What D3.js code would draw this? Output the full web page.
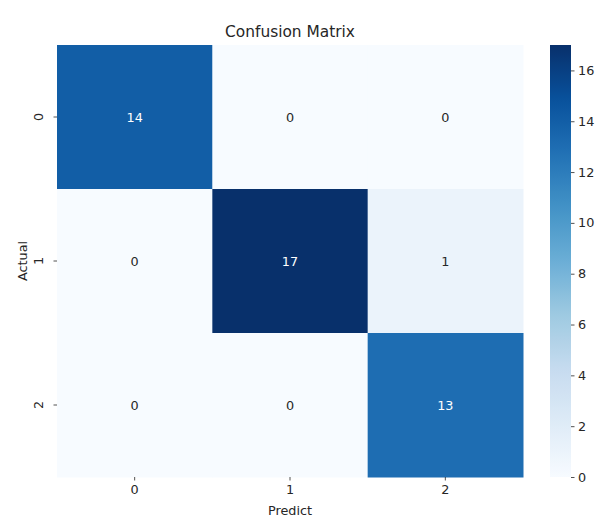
<!DOCTYPE html>
<html>
<head>
<meta charset="utf-8">
<script src="https://cdn.jsdelivr.net/npm/d3@7"></script>
<style>
  body { margin: 0; background: #fff; }
  text { font-family: "DejaVu Sans", sans-serif; fill: #262626; }
</style>
</head>
<body>
<svg id="chart" width="610" height="522"></svg>
<script>
const predictLabels = ["0", "1", "2"];
const actualLabels = ["0", "1", "2"];
const matrix = [
  [14, 0, 0],
  [0, 17, 1],
  [0, 0, 13]
];
const colorbarTicks = [0, 2, 4, 6, 8, 10, 12, 14, 16];
const vMin = 0, vMax = 17;
const blues = ["#f7fbff","#deebf7","#c6dbef","#9ecae1","#6baed6","#4292c6","#2171b5","#08519c","#08306b"];

const svg = d3.select("#chart");
const mLeft = 57, mRight = 523, mTop = 45, mBottom = 477;

const x = d3.scaleBand().domain(predictLabels).range([mLeft, mRight]);
const y = d3.scaleBand().domain(actualLabels).range([mTop, mBottom]);
const color = d3.scaleLinear()
  .domain(blues.map((_, i) => vMin + (vMax - vMin) * i / (blues.length - 1)))
  .range(blues)
  .interpolate(d3.interpolateRgb);

const cells = [];
matrix.forEach((row, i) => row.forEach((v, j) => cells.push({a: actualLabels[i], p: predictLabels[j], v})));

svg.append("g").selectAll("rect").data(cells).join("rect")
  .attr("x", d => x(d.p)).attr("y", d => y(d.a))
  .attr("width", x.bandwidth() + 0.5).attr("height", y.bandwidth() + 0.5)
  .attr("fill", d => color(d.v));

svg.append("g").selectAll("text").data(cells).join("text")
  .attr("x", d => x(d.p) + x.bandwidth() / 2)
  .attr("y", d => y(d.a) + y.bandwidth() / 2)
  .attr("text-anchor", "middle").attr("dominant-baseline", "central")
  .style("font-size", "12.8px")
  .style("fill", d => d.v > (vMax + vMin) / 2 ? "#ffffff" : "#262626")
  .text(d => d.v);

// x axis
const xAxis = svg.append("g").attr("transform", `translate(0,${mBottom})`)
  .call(d3.axisBottom(x).tickSize(3.5).tickPadding(4.5));
xAxis.select(".domain").remove();
xAxis.selectAll("line").attr("stroke", "#262626").attr("stroke-width", 0.8);
xAxis.selectAll("text").style("font-size", "12.8px").style("font-family", "DejaVu Sans").attr("fill", "#262626");

// y axis
const yAxis = svg.append("g").attr("transform", `translate(${mLeft},0)`)
  .call(d3.axisLeft(y).tickSize(3.5).tickPadding(3.5));
yAxis.select(".domain").remove();
yAxis.selectAll("line").attr("stroke", "#262626").attr("stroke-width", 0.8);
yAxis.selectAll("text")
  .style("font-size", "12.8px").style("font-family", "DejaVu Sans").attr("fill", "#262626")
  .attr("x", null)
  .attr("text-anchor", "middle")
  .attr("transform", "translate(-18,0) rotate(-90)")
  .attr("dy", "0.35em");

// title and axis labels
svg.append("text").attr("x", (mLeft + mRight) / 2).attr("y", 37)
  .attr("text-anchor", "middle").style("font-size", "15.4px").text("Confusion Matrix");
svg.append("text").attr("x", (mLeft + mRight) / 2).attr("y", 515)
  .attr("text-anchor", "middle").style("font-size", "12.8px").text("Predict");
svg.append("text").attr("transform", `translate(27,${(mTop + mBottom) / 2}) rotate(-90)`)
  .attr("text-anchor", "middle").style("font-size", "12.8px").text("Actual");

// colorbar
const cbX = 550, cbW = 21;
const cbScale = d3.scaleLinear().domain([vMin, vMax]).range([mBottom, mTop]);
const defs = svg.append("defs");
const grad = defs.append("linearGradient").attr("id", "cbgrad")
  .attr("x1", 0).attr("y1", 1).attr("x2", 0).attr("y2", 0);
d3.range(0, 1.0001, 0.02).forEach(t => {
  grad.append("stop").attr("offset", t).attr("stop-color", color(vMin + t * (vMax - vMin)));
});
svg.append("rect").attr("x", cbX).attr("y", mTop).attr("width", cbW).attr("height", mBottom - mTop)
  .attr("fill", "url(#cbgrad)");
const cbAxis = svg.append("g").attr("transform", `translate(${cbX + cbW},0)`)
  .call(d3.axisRight(cbScale).tickValues(colorbarTicks).tickSize(3.5).tickPadding(3.5));
cbAxis.select(".domain").remove();
cbAxis.selectAll("line").attr("stroke", "#262626").attr("stroke-width", 0.8);
cbAxis.selectAll("text").style("font-size", "12.8px").style("font-family", "DejaVu Sans").attr("fill", "#262626");
</script>
</body>
</html>
